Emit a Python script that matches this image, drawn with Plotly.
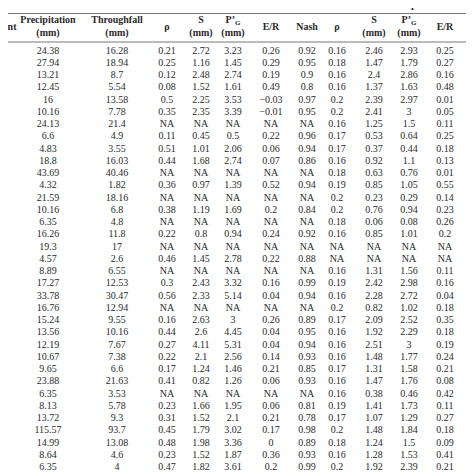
import plotly.graph_objects as go

# observed data
precip = ["24.38", "27.94", "13.21", "12.45", "16", "10.16", "24.13", "6.6", "4.83", "18.8",
          "43.69", "4.32", "21.59", "10.16", "6.35", "16.26", "19.3", "4.57", "8.89", "17.27",
          "33.78", "16.76", "15.24", "13.56", "12.19", "10.67", "9.65", "23.88", "6.35", "8.13",
          "13.72", "115.57", "14.99", "8.64", "6.35"]
through = ["16.28", "18.94", "8.7", "5.54", "13.58", "7.78", "21.4", "4.9", "3.55", "16.03",
           "40.46", "1.82", "18.16", "6.8", "4.8", "11.8", "17", "2.6", "6.55", "12.53",
           "30.47", "12.94", "9.55", "10.16", "7.67", "7.38", "6.6", "21.63", "3.53", "5.78",
           "9.3", "93.7", "13.08", "4.6", "4"]
# individual storm - IS
is_rho = ["0.21", "0.25", "0.12", "0.08", "0.5", "0.35", "NA", "0.11", "0.51", "0.44",
          "NA", "0.36", "NA", "0.38", "NA", "0.22", "NA", "0.46", "NA", "0.3",
          "0.56", "NA", "0.16", "0.44", "0.27", "0.22", "0.17", "0.41", "NA", "0.23",
          "0.31", "0.45", "0.48", "0.23", "0.47"]
is_s = ["2.72", "1.16", "2.48", "1.52", "2.25", "2.35", "NA", "0.45", "1.01", "1.68",
        "NA", "0.97", "NA", "1.19", "NA", "0.8", "NA", "1.45", "NA", "2.43",
        "2.33", "NA", "2.63", "2.6", "4.11", "2.1", "1.24", "0.82", "NA", "1.66",
        "1.52", "1.79", "1.98", "1.52", "1.82"]
is_pg = ["3.23", "1.45", "2.74", "1.61", "3.53", "3.39", "NA", "0.5", "2.06", "2.74",
         "NA", "1.39", "NA", "1.69", "NA", "0.94", "NA", "2.78", "NA", "3.32",
         "5.14", "NA", "3", "4.45", "5.31", "2.56", "1.46", "1.26", "NA", "1.95",
         "2.1", "3.02", "3.36", "1.87", "3.61"]
is_er = ["0.26", "0.29", "0.19", "0.49", "\u22120.03", "\u22120.01", "NA", "0.22", "0.06", "0.07",
         "NA", "0.52", "NA", "0.2", "NA", "0.24", "NA", "0.22", "NA", "0.16",
         "0.04", "NA", "0.26", "0.04", "0.04", "0.14", "0.21", "0.06", "NA", "0.06",
         "0.21", "0.17", "0", "0.36", "0.2"]
is_nash = ["0.92", "0.95", "0.9", "0.8", "0.97", "0.95", "NA", "0.96", "0.94", "0.86",
           "NA", "0.94", "NA", "0.84", "NA", "0.92", "NA", "0.88", "NA", "0.99",
           "0.94", "NA", "0.89", "0.95", "0.94", "0.93", "0.85", "0.93", "NA", "0.81",
           "0.78", "0.98", "0.89", "0.93", "0.99"]
# particle swarm optimization
pso_rho = ["0.16", "0.18", "0.16", "0.16", "0.2", "0.2", "0.16", "0.17", "0.17", "0.16",
           "0.18", "0.19", "0.2", "0.2", "0.18", "0.16", "NA", "NA", "0.16", "0.19",
           "0.16", "0.2", "0.17", "0.16", "0.16", "0.16", "0.17", "0.16", "0.16", "0.19",
           "0.17", "0.2", "0.18", "0.16", "0.2"]
pso_s = ["2.46", "1.47", "2.4", "1.37", "2.39", "2.41", "1.25", "0.53", "0.37", "0.92",
         "0.63", "0.85", "0.23", "0.76", "0.06", "0.85", "NA", "NA", "1.31", "2.42",
         "2.28", "0.82", "2.09", "1.92", "2.51", "1.48", "1.31", "1.47", "0.38", "1.41",
         "1.07", "1.48", "1.24", "1.28", "1.92"]
pso_pg = ["2.93", "1.79", "2.86", "1.63", "2.97", "3", "1.5", "0.64", "0.44", "1.1",
          "0.76", "1.05", "0.29", "0.94", "0.08", "1.01", "NA", "NA", "1.56", "2.98",
          "2.72", "1.02", "2.52", "2.29", "3", "1.77", "1.58", "1.76", "0.46", "1.73",
          "1.29", "1.84", "1.5", "1.53", "2.39"]
pso_er = ["0.25", "0.27", "0.16", "0.48", "0.01", "0.05", "0.11", "0.25", "0.18", "0.13",
          "0.01", "0.55", "0.14", "0.23", "0.26", "0.2", "NA", "NA", "0.11", "0.16",
          "0.04", "0.18", "0.35", "0.18", "0.19", "0.24", "0.21", "0.08", "0.42", "0.11",
          "0.27", "0.18", "0.09", "0.41", "0.21"]
pso_nash = ["0.9" if v != "NA" else "NA" for v in pso_er]  # column is cut off in the source

columns = [precip, through, is_rho, is_s, is_pg, is_er, is_nash,
           pso_rho, pso_s, pso_pg, pso_er, pso_nash]
col_x = [48, 117, 167, 201, 233, 271, 307, 337, 374, 409, 445, 480]
headers = ["Precipitation<br>(mm)", "Throughfall<br>(mm)", "\u03c1", "S<br>(mm)",
           "P\u2019<sub>G</sub><br>(mm)", "E/R", "Nash", "\u03c1", "S<br>(mm)",
           "P\u2019<sub>G</sub><br>(mm)", "E/R", "Nash"]
groups = ["Observed Data", "Individual Storm\u2014IS", "Particle Swarm Optimization\u2014PSO"]
group_x = [58, 236, 412]

row_y0, row_step = 51, 12.25
font = "Liberation Serif"
ink = "#2a2a2a"
off = 8  # page margin of the html body

fig = go.Figure()
for cx, vals in zip(col_x, columns):
    fig.add_trace(go.Scatter(
        x=[cx] * len(vals), y=[row_y0 + i * row_step for i in range(len(vals))],
        mode="text", text=vals, textposition="middle center",
        textfont=dict(family=font, size=10, color=ink),
        hoverinfo="skip", cliponaxis=True, showlegend=False))

fig.add_trace(go.Scatter(
    x=[4] + col_x, y=[27] * (len(col_x) + 1), mode="text",
    text=["<b>Event</b>"] + ["<b>%s</b>" % h for h in headers],
    textfont=dict(family=font, size=10, color=ink),
    hoverinfo="skip", cliponaxis=True, showlegend=False))

fig.add_trace(go.Scatter(
    x=group_x, y=[5] * 3, mode="text", text=["<b>%s</b>" % g for g in groups],
    textfont=dict(family=font, size=10.5, color=ink),
    hoverinfo="skip", cliponaxis=True, showlegend=False))

for yy in [13.5, 42]:
    fig.add_shape(type="line", x0=-20, x1=500, y0=yy, y1=yy,
                  line=dict(color="#777", width=1))

fig.update_xaxes(range=[off, 474 + off], visible=False, fixedrange=True)
fig.update_yaxes(range=[474 + off, off], visible=False, fixedrange=True)
fig.update_layout(width=474, height=474, margin=dict(l=0, r=0, t=0, b=0),
                  plot_bgcolor="white", paper_bgcolor="white")

fig.write_html("out.html")
